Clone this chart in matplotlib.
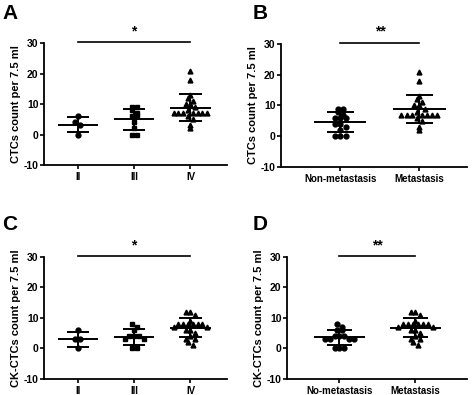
import numpy as np
import matplotlib
matplotlib.use('Agg')
import matplotlib.pyplot as plt

plt.rcParams['font.family'] = ['Liberation Sans', 'DejaVu Sans']
plt.rcParams['font.weight'] = 'bold'
plt.rcParams['axes.unicode_minus'] = False

# CTCs per 7.5 ml by stage (panel A); panel B pools II+III as non-metastasis
ctc_II = [6, 4, 3, 0]
ctc_III = [9, 9, 8, 7, 6, 6, 4, 2, 0, 0]
ctc_IV = [21, 18, 13, 12, 11, 10, 10, 9, 8, 7, 7, 7, 7, 7, 7, 7, 6, 5, 3, 2]

# CK-CTCs per 7.5 ml by stage (panel C); panel D pools II+III
ck_II = [6, 3, 3, 0]
ck_III = [8, 7, 6, 4, 4, 4, 3, 3, 0, 0]
ck_IV = [12, 12, 11, 9, 8, 8, 8, 8, 8, 8, 7, 7, 6, 6, 5, 4, 3, 3, 2, 1]

stage_labels = ['II', 'III', 'IV']
met_labels_B = ['Non-metastasis', 'Metastasis']
met_labels_D = ['No-metastasis', 'Metastasis']
yticks = [-10, 0, 10, 20, 30]


def spread(vals, step, binw=2.0):
    # side-by-side x offsets for nearby values, like a prism dot plot
    vals = np.asarray(vals, float)
    bins = np.floor((vals + 1) / binw)
    off = np.zeros(len(vals))
    for b in np.unique(bins):
        idx = np.where(bins == b)[0]
        idx = idx[np.argsort(vals[idx])]
        n = len(idx)
        # interleave so the highest values sit in the middle
        order = sorted(range(n), key=lambda k: abs(k - (n - 1) / 2))
        pos = (np.arange(n) - (n - 1) / 2) * step
        for j, k in enumerate(order):
            off[idx[n - 1 - j]] = pos[k]
    return off


def panel(ax, groups, labels, markers, xlim, mean_w, cap_w, step, ylabel, stars):
    for i, (g, m) in enumerate(zip(groups, markers)):
        g = np.asarray(g, float)
        ax.plot(i + spread(g, step), g, ls='None', marker=m, ms=3.5, color='k', clip_on=False)
        mu, sd = g.mean(), g.std(ddof=1)
        ax.hlines(mu, i - mean_w, i + mean_w, color='k', lw=1.4)
        ax.hlines([mu - sd, mu + sd], i - cap_w, i + cap_w, color='k', lw=1.4)
        ax.vlines(i, mu - sd, mu + sd, color='k', lw=1.4)
    ax.set_xlim(xlim)
    ax.set_ylim(-10, 30)
    ax.set_yticks(yticks)
    ax.set_xticks(range(len(labels)))
    ax.set_xticklabels(labels, fontsize=7, fontweight='bold')
    ax.tick_params(axis='y', labelsize=7.5, length=3, width=1.2, pad=1)
    ax.tick_params(axis='x', length=3, width=1.2, pad=2)
    for s in ['top', 'right']:
        ax.spines[s].set_visible(False)
    for s in ['left', 'bottom']:
        ax.spines[s].set_linewidth(1.3)
    ax.set_ylabel(ylabel, fontsize=8, fontweight='bold', labelpad=2)
    x1 = len(groups) - 1
    ax.plot([0, x1], [30.3, 30.3], color='k', lw=1.2, clip_on=False)
    ax.text(x1 / 2, 31.6, stars, ha='center', va='bottom', fontsize=10, fontweight='bold')


fig = plt.figure(figsize=(4.74, 3.95), dpi=100)
axA = fig.add_axes([0.093, 0.582, 0.386, 0.309])
axB = fig.add_axes([0.593, 0.577, 0.392, 0.312])
axC = fig.add_axes([0.093, 0.0405, 0.386, 0.309])
axD = fig.add_axes([0.6055, 0.0405, 0.38, 0.309])

panel(axA, [ctc_II, ctc_III, ctc_IV], stage_labels, ['o', 's', '^'],
      (-0.6, 2.65), 0.36, 0.2, 0.085, 'CTCs count per 7.5 ml', '*')
panel(axB, [ctc_II + ctc_III, ctc_IV], met_labels_B, ['o', '^'],
      (-0.75, 1.6), 0.33, 0.17, 0.065, 'CTCs count per 7.5 ml', '**')
panel(axC, [ck_II, ck_III, ck_IV], stage_labels, ['o', 's', '^'],
      (-0.6, 2.65), 0.36, 0.2, 0.085, 'CK-CTCs count per 7.5 ml', '*')
panel(axD, [ck_II + ck_III, ck_IV], met_labels_D, ['o', '^'],
      (-0.69, 1.68), 0.33, 0.17, 0.065, 'CK-CTCs count per 7.5 ml', '**')

for lab, x, y in [('A', 0.005, 0.99), ('B', 0.532, 0.99), ('C', 0.005, 0.455), ('D', 0.532, 0.455)]:
    fig.text(x, y, lab, fontsize=15, fontweight='bold', ha='left', va='top')

fig.savefig('out.png', dpi=100)
